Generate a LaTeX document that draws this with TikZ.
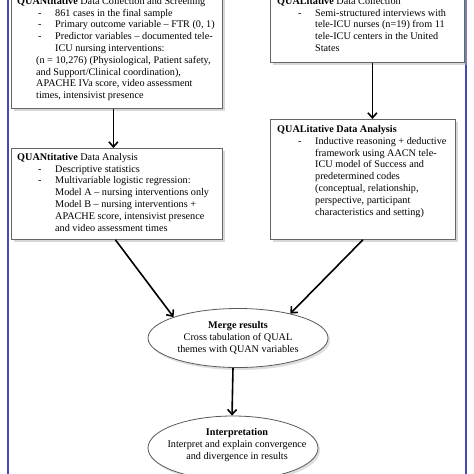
\documentclass[tikz,border=0pt]{standalone}
\usepackage{fontspec}
\setmainfont{Liberation Serif}
\usetikzlibrary{shapes.geometric,arrows.meta,shadows,positioning}

\newcommand{\itm}[1]{\hspace*{21pt}\makebox[17pt][l]{-}#1}
\newcommand{\cnt}[1]{\hspace*{38pt}#1}
\newcommand{\brk}[1]{\hspace*{19pt}#1}

\begin{document}
\begin{tikzpicture}[x=1pt,y=-1pt]
			\tikzstyle{Box}		= [rectangle, draw=black!60, line width=0.8pt, fill=white, inner sep=0pt, drop shadow={shadow xshift=2.5pt, shadow yshift=-2.5pt, fill=black!30}]
			\tikzstyle{Oval}	= [ellipse, draw=black!65, line width=0.8pt, fill=white, inner sep=0pt, drop shadow={shadow xshift=2pt, shadow yshift=-2.5pt, fill=black!25}]
			\tikzstyle{Txt}		= [align=left, anchor=base west, inner sep=0pt, font=\fontsize{10.2}{11.8}\selectfont]
			\tikzstyle{Mid}		= [align=center, inner sep=0pt, font=\fontsize{10.2}{11.8}\selectfont]
			\tikzstyle{Flow}	= [-{Straight Barb[length=5pt,width=9pt]}, line width=1.6pt]
			\tikzstyle{Frame}	= [line width=1.5pt, color={rgb,255:red,70;green,70;blue,190}]

			\useasboundingbox (0,0) rectangle (474,474);
			\clip (0,0) rectangle (474,474);
			\fill [white] (0,0) rectangle (474,474);
			\foreach \x in {8, 466}
				\draw [Frame] (\x,0) -- (\x,474);

			% quantitative strand
			\node (qnc) at (11,109) [Box, anchor=south west, minimum width=211pt, minimum height=150pt] {};
			\node (qna) at (11,148) [Box, anchor=north west, minimum width=211pt, minimum height=91pt] {};
			% qualitative strand
			\node (qlc) at (270,63) [Box, anchor=south west, minimum width=194pt, minimum height=110pt] {};
			\node (qla) at (270,119) [Box, anchor=north west, minimum width=185pt, minimum height=120pt] {};
			% mixing
			\node (merge) at (238,338) [Oval, minimum width=180pt, minimum height=59pt] {};
			\node (interp) at (233,448) [Oval, minimum width=170pt, minimum height=64pt] {};

			% text blocks, placed by the baseline of their last line
			\node (qnctxt) at (17,98.7) [Txt] {\textbf{QUANtitative} Data Collection and Screening\\
				\itm{861 cases in the final sample}\\
				\itm{Primary outcome variable – FTR (0, 1)}\\
				\itm{Predictor variables – documented tele-}\\
				\cnt{ICU nursing interventions:}\\
				\brk{(n = 10,276) (Physiological, Patient safety,}\\
				\brk{and Support/Clinical coordination),}\\
				\brk{APACHE IVa score, video assessment}\\
				\brk{times, intensivist presence}};
			\node (qnatxt) at (17,231) [Txt] {\textbf{QUANtitative} Data Analysis\\
				\itm{Descriptive statistics}\\
				\itm{Multivariable logistic regression:}\\
				\cnt{Model A – nursing interventions only}\\
				\cnt{Model B – nursing interventions +}\\
				\cnt{APACHE score, intensivist presence}\\
				\cnt{and video assessment times}};
			\node (qlctxt) at (277,51.5) [Txt] {\textbf{QUALitative} Data Collection\\
				\itm{Semi-structured interviews with}\\
				\cnt{tele-ICU nurses (n=19) from 11}\\
				\cnt{tele-ICU centers in the United}\\
				\cnt{States}};
			\node (qlatxt) at (277,215) [Txt] {\textbf{QUALitative Data Analysis}\\
				\itm{Inductive reasoning + deductive}\\
				\cnt{framework using AACN tele-}\\
				\cnt{ICU model of Success and}\\
				\cnt{predetermined codes}\\
				\cnt{(conceptual, relationship,}\\
				\cnt{perspective, participant}\\
				\cnt{characteristics and setting)}};
			\node (mergetxt) at (238,338) [Mid] {\textbf{Merge results}\\Cross tabulation of QUAL\\themes with QUAN variables};
			\node (interptxt) at (237,445) [Mid] {\textbf{Interpretation}\\Interpret and explain convergence\\and divergence in results};

			\draw [Flow] ([xshift=-3.5pt]qnc.south) -- ([xshift=-3.5pt]qna.north);
			\draw [Flow] ([xshift=5pt]qlc.south) -- ([xshift=9.5pt]qla.north);
			\draw [Flow] ([xshift=-1.5pt]qna.south) -- (merge.162);
			\draw [Flow] (qla.south) -- (merge.25);
			\draw [Flow] ([xshift=-5pt]merge.south) -- ([xshift=-1pt]interp.north);
		\end{tikzpicture}
\end{document}
